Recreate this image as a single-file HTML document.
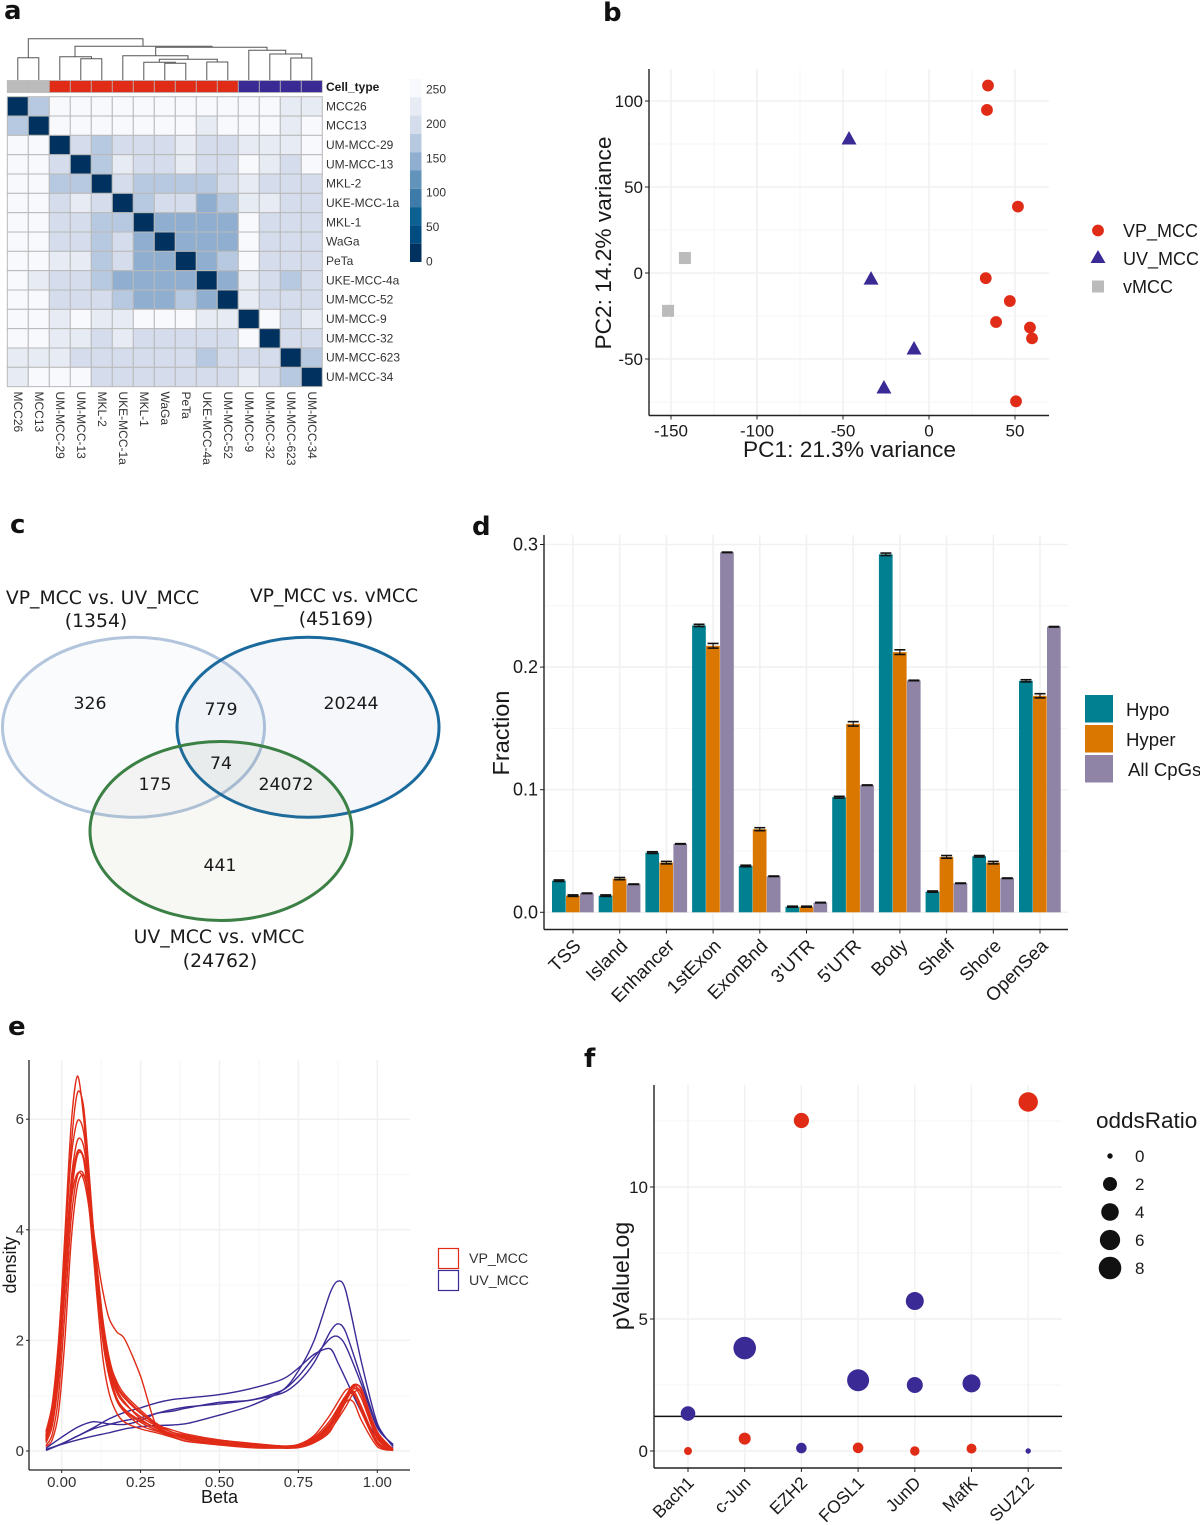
<!DOCTYPE html>
<html lang="en">
<head>
<meta charset="utf-8">
<title>Methylation figure panels a–f</title>
<style>
html,body{margin:0;padding:0;background:#fff;width:1200px;height:1525px;overflow:hidden}
svg{display:block;filter:blur(.35px)}
text{font-family:"Liberation Sans",sans-serif;fill:#1a1a1a}
.dv{font-family:"DejaVu Sans",sans-serif}
</style>
</head>
<body>
<svg id="fig" width="1200" height="1525" viewBox="0 0 1200 1525" xmlns="http://www.w3.org/2000/svg"></svg>
<script>
/* ---------- shared palette ---------- */
var RED = '#e02b17', BLUE = '#3a2a96', GREY = '#bbbbbb', GRID = '#f1f1f1', GRIDMIN = '#f6f6f6', AXIS = '#222222';

/* ---------- panel a data ---------- */
var sampleNames = ['MCC26','MCC13','UM-MCC-29','UM-MCC-13','MKL-2','UKE-MCC-1a','MKL-1','WaGa','PeTa','UKE-MCC-4a','UM-MCC-52','UM-MCC-9','UM-MCC-32','UM-MCC-623','UM-MCC-34'];
var sampleTypes = ['v','v','VP','VP','VP','VP','VP','VP','VP','VP','VP','UV','UV','UV','UV'];
var distanceMatrix = [
[0,170,250,250,250,250,250,250,250,250,250,250,250,225,225],
[170,0,250,250,250,250,250,250,250,225,250,250,250,225,250],
[250,250,0,200,170,200,200,200,225,200,200,225,225,225,250],
[250,250,200,0,170,225,200,200,225,200,200,250,225,200,250],
[250,250,170,170,0,200,170,170,170,170,200,225,200,200,200],
[250,250,200,225,200,0,170,200,200,145,170,225,225,200,200],
[250,250,200,200,170,170,0,145,145,145,145,250,200,200,200],
[250,250,200,200,170,200,145,0,145,145,145,250,200,200,200],
[250,250,225,225,170,200,145,145,0,145,170,250,200,200,200],
[250,225,200,200,170,145,145,145,145,0,145,225,200,170,200],
[250,250,200,200,200,170,145,145,170,145,0,225,200,200,200],
[250,250,225,250,225,225,250,250,250,225,225,0,250,200,225],
[250,250,225,225,200,225,200,200,200,200,200,250,0,200,200],
[225,225,225,200,200,200,200,200,200,170,200,200,200,0,170],
[225,250,250,250,200,200,200,200,200,200,200,225,200,170,0]];
var heatColors = ['#00315f','#004b7f','#0c6193','#3f7ba8','#6293bb','#90aecf','#b7c9e0','#d5ddec','#e7ebf4','#f8f9fd'];
var heatTicks = [0,50,100,150,200,250];

/* ---------- panel b data ---------- */
var pcaVpX = [34.3,33.7,51.7,33,47,39,58.7,59.9,50.6];
var pcaVpY = [109,94.8,38.6,-3,-16.3,-28.5,-31.7,-38,-74.6];
var pcaUvX = [-46.5,-33.7,-8.7,-26.2];
var pcaUvY = [78.5,-3,-43.6,-66.3];
var pcaVX = [-141.9,-151.7];
var pcaVY = [8.7,-22];
var pcaXTicks = [-150,-100,-50,0,50];
var pcaYTicks = [-50,0,50,100];

/* ---------- panel d data ---------- */
var regionNames = ['TSS','Island','Enhancer','1stExon','ExonBnd',"3'UTR","5'UTR",'Body','Shelf','Shore','OpenSea'];
var hypoValues = [.0258,.0136,.0487,.234,.0378,.0046,.0939,.292,.0169,.0457,.1888];
var hyperValues = [.0136,.0275,.0405,.2174,.0678,.0046,.1537,.2122,.0452,.0405,.1766];
var allCpgValues = [.0155,.0229,.0558,.2936,.0294,.0079,.1037,.1891,.0237,.0278,.2329];
var hypoErrors = [.0006,.0006,.0007,.0009,.0006,.0004,.0007,.001,.0005,.0006,.0009];
var hyperErrors = [.0006,.0009,.001,.0019,.0012,.0004,.0018,.0019,.0011,.001,.0017];
var allCpgErrors = [.0002,.0002,.0002,.0002,.0002,.0002,.0002,.0002,.0002,.0002,.0002];
var fractionTicks = [0,.1,.2,.3];

/* ---------- panel e data ---------- */
var betaGridRed = [-.05,-.03,-.01,.01,.03,.05,.07,.09,.11,.13,.15,.175,.2,.25,.3,.35,.4,.5,.6,.7,.75,.8,.85,.9,.925,.95,1.0,1.05];
var densityRed = [
[.30,.75,1.9,3.9,5.9,6.78,6.0,4.5,3.1,2.0,1.35,.9,.7,.46,.36,.27,.17,.13,.1,.07,.11,.25,.55,1.0,1.02,.75,.15,.01],
[.25,.7,1.8,3.6,5.5,6.48,6.2,4.8,3.3,2.15,1.45,.95,.72,.52,.38,.29,.24,.16,.09,.07,.1,.22,.5,.95,1.08,.8,.17,.01],
[.35,.85,2.0,3.7,5.3,5.97,5.75,4.6,3.2,2.1,1.4,.95,.75,.55,.42,.31,.22,.14,.12,.09,.12,.28,.65,1.1,1.05,.7,.12,.01],
[.2,.6,1.6,3.3,4.9,5.62,5.5,4.6,3.3,2.2,1.5,1.05,.85,.62,.45,.3,.27,.18,.13,.08,.1,.2,.48,.98,1.15,.95,.22,.02],
[.28,.7,1.7,3.3,4.8,5.42,5.3,4.55,3.35,2.3,1.6,1.15,.95,.68,.47,.34,.25,.19,.1,.07,.09,.18,.42,.9,1.12,1.05,.28,.02],
[.18,.55,1.45,3.0,4.6,5.35,5.3,4.6,3.4,2.35,1.65,1.25,1.02,.74,.5,.34,.28,.15,.11,.08,.1,.2,.45,.92,1.18,1.02,.25,.02],
[.1,.3,1.0,2.5,4.2,4.98,5.0,4.45,3.6,2.9,2.4,2.15,2.02,1.35,.45,.3,.22,.14,.09,.06,.08,.16,.38,.8,1.05,1.05,.35,.03],
[.08,.2,.7,2.0,3.8,4.8,4.98,4.5,3.45,2.4,1.7,1.2,.98,.7,.48,.38,.3,.2,.14,.09,.1,.22,.5,1.0,1.2,1.1,.32,.03],
[.22,.65,1.65,3.2,4.7,5.4,5.25,4.2,2.9,1.7,1.05,.68,.52,.4,.33,.25,.17,.11,.06,.05,.06,.15,.35,.88,.88,.55,.08,.01],
[.15,.45,1.3,2.9,4.5,5.02,4.9,4.25,3.2,2.2,1.55,1.1,.88,.58,.41,.3,.2,.13,.08,.07,.09,.19,.44,.95,1.16,1.12,.3,.02]];
var betaGridBlue = [-.05,0,.05,.1,.15,.2,.25,.3,.35,.4,.5,.6,.7,.75,.8,.85,.875,.9,.95,1.0,1.05];
var densityBlue = [
[.05,.25,.43,.53,.49,.48,.55,.68,.72,.78,.88,.92,1.1,1.35,1.7,2.03,2.07,1.9,1.2,.42,.12],
[.02,.13,.27,.42,.58,.7,.78,.87,.93,.96,1.02,1.13,1.3,1.5,1.75,1.85,1.6,1.3,.7,.25,.05],
[.03,.12,.2,.27,.33,.4,.44,.46,.47,.5,.65,.82,1.1,1.45,2.0,2.85,3.07,2.9,1.6,.5,.08],
[.01,.13,.27,.4,.48,.55,.6,.68,.75,.8,.85,.92,1.05,1.25,1.6,2.15,2.3,2.15,1.3,.45,.1]];
var betaTicks = [0,.25,.5,.75,1];
var densityTicks = [0,2,4,6];

/* ---------- panel f data ---------- */
var tfNames = ['Bach1','c-Jun','EZH2','FOSL1','JunD','MafK','SUZ12'];
var uvPValue = [1.42,3.9,.11,2.68,2.5,2.56,0];
var uvOdds = [2.3,8,.73,7.45,3.04,4.3,0];
var uvJunDPValue = 5.68;
var uvJunDOdds = 4.3;
var vpPValue = [0,.47,12.52,.12,0,.09,13.22];
var vpOdds = [.18,1.18,2.6,.73,.43,.57,5.3];
var pValueTicks = [0,5,10];
var oddsLegend = [0,2,4,6,8];
var significanceLine = 1.31;

/* ---------- helpers ---------- */
var NS = 'http://www.w3.org/2000/svg';
var root = document.getElementById('fig');
function add(parent, tag, attrs, name) {
  var el = document.createElementNS(NS, tag);
  for (var k in attrs) el.setAttribute(k, attrs[k]);
  
  
  parent.appendChild(el);
  return el;
}
function group(name) { return add(root, 'g', {}, name); }
function line(p, x1, y1, x2, y2, stroke, w, name) {
  return add(p, 'line', {x1:x1, y1:y1, x2:x2, y2:y2, stroke:stroke, 'stroke-width':w}, name);
}
function txt(p, s, x, y, size, anchor, name, extra) {
  var a = {x:x, y:y, 'font-size':size, 'text-anchor':anchor || 'start'};
  if (extra) for (var k in extra) a[k] = extra[k];
  var t = add(p, 'text', a, name);
  t.textContent = s;
  return t;
}
function vtxt(p, s, x, y, size, rot, anchor, name, extra) {
  var a = {transform:'rotate(' + rot + ' ' + x + ' ' + y + ')'};
  if (extra) for (var k in extra) a[k] = extra[k];
  return txt(p, s, x, y, size, anchor, name, a);
}
function slug(s) { return String(s).toLowerCase().replace(/[^a-z0-9]+/g, '-').replace(/^-|-$/g, ''); }
function smooth(pts) {
  var d = 'M' + pts[0][0].toFixed(2) + ' ' + pts[0][1].toFixed(2);
  for (var i = 0; i < pts.length - 1; i++) {
    var p0 = pts[Math.max(0, i - 1)], p1 = pts[i], p2 = pts[i + 1], p3 = pts[Math.min(pts.length - 1, i + 2)];
    var t = 0.14;
    d += 'C' + (p1[0] + (p2[0] - p0[0]) * t).toFixed(2) + ' ' + (p1[1] + (p2[1] - p0[1]) * t).toFixed(2) + ' ' +
         (p2[0] - (p3[0] - p1[0]) * t).toFixed(2) + ' ' + (p2[1] - (p3[1] - p1[1]) * t).toFixed(2) + ' ' +
         p2[0].toFixed(2) + ' ' + p2[1].toFixed(2);
  }
  return d;
}

/* ---------- panel letters ---------- */
var letterGroup = group('panel-letters');
var letterLabels = [['a',4,19],['b',603,21],['c',10,533],['d',472,535],['e',8,1035],['f',584,1067]];
letterLabels.forEach(function (l) {
  txt(letterGroup, l[0], l[1], l[2], 26, 'start', 'panel-letter-' + l[0], {'class':'dv', 'font-weight':'bold', style:'fill:#111'});
});

/* ---------- panel a: heatmap ---------- */
(function () {
  var g = group('distance-heatmap');
  var x0 = 7.3, y0 = 96.7, cw = 21, ch = 19.33;
  function cx(i) { return x0 + cw * i; }
  function cy(i) { return y0 + ch * i; }
  var dend = add(g, 'g', {fill:'none', stroke:'#555', 'stroke-width':1}, 'sample-dendrogram');
  var base = 80;
  function leaf(i) { return cx(i) + cw / 2; }
  /* each entry: height, left x, right x, left bottom, right bottom */
  var merges = [
    [38.7,28.3,143,57.7,46.5],
    [57.7,leaf(0),leaf(1),base,base],
    [46.3,75,212,56.7,47.3],
    [56.7,leaf(2),91.5,base,58.7],
    [58.7,leaf(3),leaf(4),base,base],
    [47.3,155.7,267,55.7,50.3],
    [55.7,leaf(5),188,base,59.3],
    [59.3,159.3,217.3,62.3,62],
    [62.3,leaf(6),175.3,base,63.3],
    [63.3,leaf(7),leaf(8),base,base],
    [62,leaf(9),leaf(10),base,base],
    [50.3,leaf(11),285.7,base,54],
    [54,leaf(12),301.7,base,58],
    [58,leaf(13),leaf(14),base,base]
  ];
  merges.forEach(function (m, i) {
    add(dend, 'path', {d:'M' + m[1] + ' ' + m[3] + 'V' + m[0] + 'H' + m[2] + 'V' + m[4]}, 'dendrogram-branch-' + i);
  });
  var typeColor = {v:GREY, VP:RED, UV:BLUE};
  sampleTypes.forEach(function (t, i) {
    add(g, 'rect', {x:cx(i), y:80.5, width:cw, height:12, fill:typeColor[t], stroke:'#b8b8b8', 'stroke-width':.8}, 'cell-type-' + slug(sampleNames[i]));
  });
  txt(g, 'Cell_type', 326, 91, 12, 'start', 'cell-type-label', {'font-weight':'bold'});
  distanceMatrix.forEach(function (row, r) {
    row.forEach(function (v, c) {
      var idx = Math.min(9, Math.floor(v / 26.6));
      add(g, 'rect', {x:cx(c), y:cy(r), width:cw, height:ch, fill:heatColors[idx], stroke:'#b9b9b9', 'stroke-width':1}, 'heat-cell-' + slug(sampleNames[r]) + '-' + slug(sampleNames[c]));
    });
    txt(g, sampleNames[r], 326, cy(r) + ch / 2 + 4, 12, 'start', 'row-label-' + slug(sampleNames[r]), {style:'fill:#333'});
    vtxt(g, sampleNames[r], cx(r) + cw / 2 - 4, 391.5, 12, 90, 'start', 'column-label-' + slug(sampleNames[r]), {style:'fill:#333'});
  });
  var leg = add(g, 'g', {}, 'heat-color-legend');
  var top = 79, bar = 18.3;
  heatColors.slice().reverse().forEach(function (c, i) {
    add(leg, 'rect', {x:410, y:top + i * bar, width:11.5, height:bar, fill:c}, 'heat-legend-bin-' + i);
  });
  function ly(v) { return 261 - v * 0.688; }
  heatTicks.forEach(function (t) {
    txt(leg, t, 426, ly(t) + 4.5, 12, 'start', 'heat-legend-tick-' + t, {style:'fill:#333'});
  });
})();

/* ---------- panel b: PCA ---------- */
(function () {
  var g = group('pca-plot');
  var L = 649, R = 1049, T = 69, B = 415.5;
  function X(v) { return 929 + v * 1.72; }
  function Y(v) { return 273 - v * 1.72; }
  [-125,-75,-25,25].forEach(function (v) { line(g, X(v), T, X(v), B, GRIDMIN, 1, 'pca-minor-gridline-x'); });
  [-75,-25,25,75].forEach(function (v) { line(g, L, Y(v), R, Y(v), GRIDMIN, 1, 'pca-minor-gridline-y'); });
  pcaXTicks.concat([-100]).forEach(function (v) { line(g, X(v), T, X(v), B, GRID, 1.5, 'pca-gridline-x'); });
  pcaYTicks.forEach(function (v) { line(g, L, Y(v), R, Y(v), GRID, 1.5, 'pca-gridline-y'); });
  line(g, L, T, L, B, AXIS, 1.4, 'pca-y-axis');
  line(g, L, B, R, B, AXIS, 1.4, 'pca-x-axis');
  pcaXTicks.forEach(function (v) {
    line(g, X(v), B, X(v), B + 4, AXIS, 1, 'pca-x-tick');
    txt(g, v, X(v), B + 21, 17, 'middle', 'pca-x-tick-label');
  });
  pcaYTicks.forEach(function (v) {
    line(g, L - 4, Y(v), L, Y(v), AXIS, 1, 'pca-y-tick');
    txt(g, v, L - 6, Y(v) + 6, 17, 'end', 'pca-y-tick-label');
  });
  txt(g, 'PC1: 21.3% variance', 849.5, 457, 22, 'middle', 'pca-x-axis-title', {textLength:213, lengthAdjust:'spacingAndGlyphs'});
  vtxt(g, 'PC2: 14.2% variance', 611, 243, 22, -90, 'middle', 'pca-y-axis-title', {textLength:213, lengthAdjust:'spacingAndGlyphs'});
  pcaVpX.forEach(function (x, i) {
    add(g, 'circle', {cx:X(x), cy:Y(pcaVpY[i]), r:5.9, fill:RED}, 'pca-point-vp-mcc');
  });
  pcaUvX.forEach(function (x, i) {
    var px = X(x), py = Y(pcaUvY[i]);
    add(g, 'polygon', {points:(px - 7.5) + ',' + (py + 6.5) + ' ' + (px + 7.5) + ',' + (py + 6.5) + ' ' + px + ',' + (py - 7)}, 'pca-point-uv-mcc').setAttribute('fill', BLUE);
  });
  pcaVX.forEach(function (x, i) {
    add(g, 'rect', {x:X(x) - 6, y:Y(pcaVY[i]) - 6, width:12, height:12, fill:GREY}, 'pca-point-vmcc');
  });
  var leg = add(g, 'g', {}, 'pca-legend');
  add(leg, 'circle', {cx:1098, cy:230.5, r:5.9, fill:RED}, 'pca-legend-vp-mcc-marker');
  add(leg, 'polygon', {points:'1090.5,263 1105.5,263 1098,250', fill:BLUE}, 'pca-legend-uv-mcc-marker');
  add(leg, 'rect', {x:1092, y:280.5, width:12, height:12, fill:GREY}, 'pca-legend-vmcc-marker');
  txt(leg, 'VP_MCC', 1123, 237, 18, 'start', 'pca-legend-vp-mcc-label');
  txt(leg, 'UV_MCC', 1123, 265, 18, 'start', 'pca-legend-uv-mcc-label');
  txt(leg, 'vMCC', 1123, 293, 18, 'start', 'pca-legend-vmcc-label');
})();

/* ---------- panel c: Venn ---------- */
(function () {
  var g = group('venn-diagram');
  add(g, 'ellipse', {cx:133.5, cy:727.3, rx:131, ry:90, fill:'#b3c6e0', 'fill-opacity':.07, stroke:'#b2c5dd', 'stroke-width':3}, 'venn-set-vp-vs-uv');
  add(g, 'ellipse', {cx:308, cy:727.3, rx:131, ry:90, fill:'#3a6a9e', 'fill-opacity':.05, stroke:'#1a6a9e', 'stroke-width':3}, 'venn-set-vp-vs-v');
  add(g, 'ellipse', {cx:221, cy:831, rx:131, ry:89.5, fill:'#6b6b3a', 'fill-opacity':.055, stroke:'#3b8045', 'stroke-width':3}, 'venn-set-uv-vs-v');
  var headings = [['VP_MCC vs. UV_MCC',102.5,604],['(1354)',96,627],['VP_MCC vs. vMCC',334,602],['(45169)',336,625],['UV_MCC vs. vMCC',219,943],['(24762)',220,967]];
  headings.forEach(function (h) {
    txt(g, h[0], h[1], h[2], 18.8, 'middle', 'venn-title-' + slug(h[0]), {'class':'dv'});
  });
  var counts = [['326',90,709],['779',221,715],['20244',351,709],['74',221,769],['175',155,790],['24072',286,790],['441',220,871]];
  counts.forEach(function (c) {
    txt(g, c[0], c[1], c[2], 17.3, 'middle', 'venn-count-' + c[0], {'class':'dv'});
  });
})();

/* ---------- panel d: bars ---------- */
(function () {
  var g = group('region-fraction-bars');
  var L = 544, R = 1068, T = 535, B = 929.5, bw = 14;
  function Y(v) { return 912.3 - v * 1226; }
  function X(i) { return 573 + i * 46.7; }
  [.05,.15,.25].forEach(function (v) { line(g, L, Y(v), R, Y(v), GRIDMIN, 1, 'bars-minor-gridline'); });
  fractionTicks.forEach(function (v) { line(g, L, Y(v), R, Y(v), GRID, 1.6, 'bars-gridline'); });
  regionNames.forEach(function (n, i) { line(g, X(i), T, X(i), B, GRID, 1.6, 'bars-vertical-gridline'); });
  var seriesList = [[hypoValues, hypoErrors, '#008090', 'hypo'], [hyperValues, hyperErrors, '#d97700', 'hyper'], [allCpgValues, allCpgErrors, '#8f83a6', 'all-cpgs']];
  regionNames.forEach(function (n, i) {
    seriesList.forEach(function (s, k) {
      var v = s[0][i], e = s[1][i], bx = X(i) - 21 + k * bw;
      add(g, 'rect', {x:bx, y:Y(v), width:bw - .3, height:Y(0) - Y(v), fill:s[2]}, 'bar-' + slug(n) + '-' + s[3]);
      var c = bx + bw / 2;
      line(g, c, Y(v + e), c, Y(v - e), '#111', 1.1, 'error-bar-stem');
      line(g, c - 5.5, Y(v + e), c + 5.5, Y(v + e), '#111', 1.6, 'error-bar-cap-top');
      line(g, c - 5.5, Y(v - e), c + 5.5, Y(v - e), '#111', 1.6, 'error-bar-cap-bottom');
    });
    line(g, X(i), B, X(i), B + 4, AXIS, 1, 'bars-x-tick');
    vtxt(g, n, X(i) + 9, 947, 18.7, -45, 'end', 'bars-x-label-' + slug(n));
  });
  line(g, L, T, L, B, AXIS, 1.4, 'bars-y-axis');
  line(g, L, B, R, B, AXIS, 1.4, 'bars-x-axis');
  fractionTicks.forEach(function (v) {
    var s = v === 0 ? '0.0' : v.toFixed(1);
    line(g, L - 4, Y(v), L, Y(v), AXIS, 1, 'bars-y-tick');
    txt(g, s, L - 6, Y(v) + 6, 18, 'end', 'bars-y-tick-label');
  });
  vtxt(g, 'Fraction', 509, 733, 23.5, -90, 'middle', 'bars-y-axis-title');
  var leg = add(g, 'g', {}, 'bars-legend');
  var legendRows = [['Hypo','#008090',695,1126],['Hyper','#d97700',725,1126],['All CpGs','#8f83a6',755,1128]];
  legendRows.forEach(function (r) {
    add(leg, 'rect', {x:1085, y:r[2], width:28, height:27.5, fill:r[1]}, 'bars-legend-swatch-' + slug(r[0]));
    txt(leg, r[0], r[3], r[2] + 21, 18.6, 'start', 'bars-legend-label-' + slug(r[0]));
  });
})();

/* ---------- panel e: density ---------- */
(function () {
  var g = group('beta-density-plot');
  var L = 29, R = 410, T = 1060, B = 1470;
  function X(v) { return 61.7 + v * 315.6; }
  function Y(v) { return 1451 - v * 55.3; }
  [.125,.375,.625,.875].forEach(function (v) { line(g, X(v), T, X(v), B, GRIDMIN, 1, 'density-minor-gridline-x'); });
  [1,3,5].forEach(function (v) { line(g, L, Y(v), R, Y(v), GRIDMIN, 1, 'density-minor-gridline-y'); });
  betaTicks.forEach(function (v) { line(g, X(v), T, X(v), B, GRID, 1.5, 'density-gridline-x'); });
  densityTicks.forEach(function (v) { line(g, L, Y(v), R, Y(v), GRID, 1.5, 'density-gridline-y'); });
  densityBlue.forEach(function (s, i) {
    var pts = s.map(function (v, j) { return [X(betaGridBlue[j]), Y(v)]; });
    add(g, 'path', {d:smooth(pts), fill:'none', stroke:BLUE, 'stroke-width':1.4}, 'density-curve-uv-mcc-' + i);
  });
  densityRed.forEach(function (s, i) {
    var pts = s.map(function (v, j) { return [X(betaGridRed[j]), Y(v)]; });
    add(g, 'path', {d:smooth(pts), fill:'none', stroke:RED, 'stroke-width':1.4}, 'density-curve-vp-mcc-' + i);
  });
  line(g, L, T, L, B, AXIS, 1.3, 'density-y-axis');
  line(g, L, B, R, B, AXIS, 1.3, 'density-x-axis');
  betaTicks.forEach(function (v) {
    line(g, X(v), B, X(v), B + 3, AXIS, 1, 'density-x-tick');
    txt(g, v.toFixed(2), X(v), 1487, 15, 'middle', 'density-x-tick-label', {style:'fill:#333'});
  });
  densityTicks.forEach(function (v) {
    line(g, L - 3, Y(v), L, Y(v), AXIS, 1, 'density-y-tick');
    txt(g, v, L - 5, Y(v) + 5, 15, 'end', 'density-y-tick-label', {style:'fill:#333'});
  });
  txt(g, 'Beta', 219.5, 1503, 18, 'middle', 'density-x-axis-title');
  vtxt(g, 'density', 16, 1265, 18, -90, 'middle', 'density-y-axis-title');
  var leg = add(g, 'g', {}, 'density-legend');
  add(leg, 'rect', {x:438.5, y:1248.5, width:20, height:20, fill:'#fff', stroke:RED, 'stroke-width':1.2}, 'density-legend-vp-mcc-key');
  add(leg, 'rect', {x:438.5, y:1270.5, width:20, height:20, fill:'#fff', stroke:BLUE, 'stroke-width':1.2}, 'density-legend-uv-mcc-key');
  txt(leg, 'VP_MCC', 469, 1263, 14.2, 'start', 'density-legend-vp-mcc-label', {style:'fill:#333'});
  txt(leg, 'UV_MCC', 469, 1285, 14.2, 'start', 'density-legend-uv-mcc-label', {style:'fill:#333'});
})();

/* ---------- panel f: dots ---------- */
(function () {
  var g = group('tf-enrichment-plot');
  var L = 654, R = 1062, T = 1085, B = 1468;
  function X(i) { return 688 + i * 56.7; }
  function Y(v) { return 1451 - v * 26.4; }
  function Rad(s) { return 2.7 + 3.04 * Math.sqrt(s); }
  [2.5,7.5,12.5].forEach(function (v) { line(g, L, Y(v), R, Y(v), GRIDMIN, 1, 'dots-minor-gridline'); });
  pValueTicks.forEach(function (v) { line(g, L, Y(v), R, Y(v), GRID, 1.5, 'dots-gridline-y'); });
  tfNames.forEach(function (n, i) { line(g, X(i), T, X(i), B, GRID, 1.5, 'dots-gridline-x'); });
  line(g, L, Y(significanceLine), R, Y(significanceLine), '#111', 1.5, 'significance-line');
  tfNames.forEach(function (n, i) {
    add(g, 'circle', {cx:X(i), cy:Y(uvPValue[i]), r:Rad(uvOdds[i]), fill:BLUE}, 'dot-uv-mcc-' + slug(n));
    add(g, 'circle', {cx:X(i), cy:Y(vpPValue[i]), r:Rad(vpOdds[i]), fill:RED}, 'dot-vp-mcc-' + slug(n));
    line(g, X(i), B, X(i), B + 4, AXIS, 1, 'dots-x-tick');
    vtxt(g, n, X(i) + 7, 1484, 17.5, -45, 'end', 'dots-x-label-' + slug(n));
  });
  add(g, 'circle', {cx:X(4), cy:Y(uvJunDPValue), r:Rad(uvJunDOdds), fill:BLUE}, 'dot-uv-mcc-jund-high');
  line(g, L, T, L, B, AXIS, 1.4, 'dots-y-axis');
  line(g, L, B, R, B, AXIS, 1.4, 'dots-x-axis');
  pValueTicks.forEach(function (v) {
    line(g, L - 4, Y(v), L, Y(v), AXIS, 1, 'dots-y-tick');
    txt(g, v, L - 6, Y(v) + 6, 17, 'end', 'dots-y-tick-label');
  });
  vtxt(g, 'pValueLog', 629, 1276, 23, -90, 'middle', 'dots-y-axis-title');
  var leg = add(g, 'g', {}, 'odds-ratio-legend');
  txt(leg, 'oddsRatio', 1096, 1128, 22.5, 'start', 'odds-ratio-legend-title');
  oddsLegend.forEach(function (s, i) {
    var y = 1156 + i * 28;
    add(leg, 'circle', {cx:1110, cy:y, r:Rad(s), fill:'#111'}, 'odds-ratio-legend-dot-' + s);
    txt(leg, s, 1135, y + 6, 17, 'start', 'odds-ratio-legend-label-' + s);
  });
})();
</script>
</body>
</html>
